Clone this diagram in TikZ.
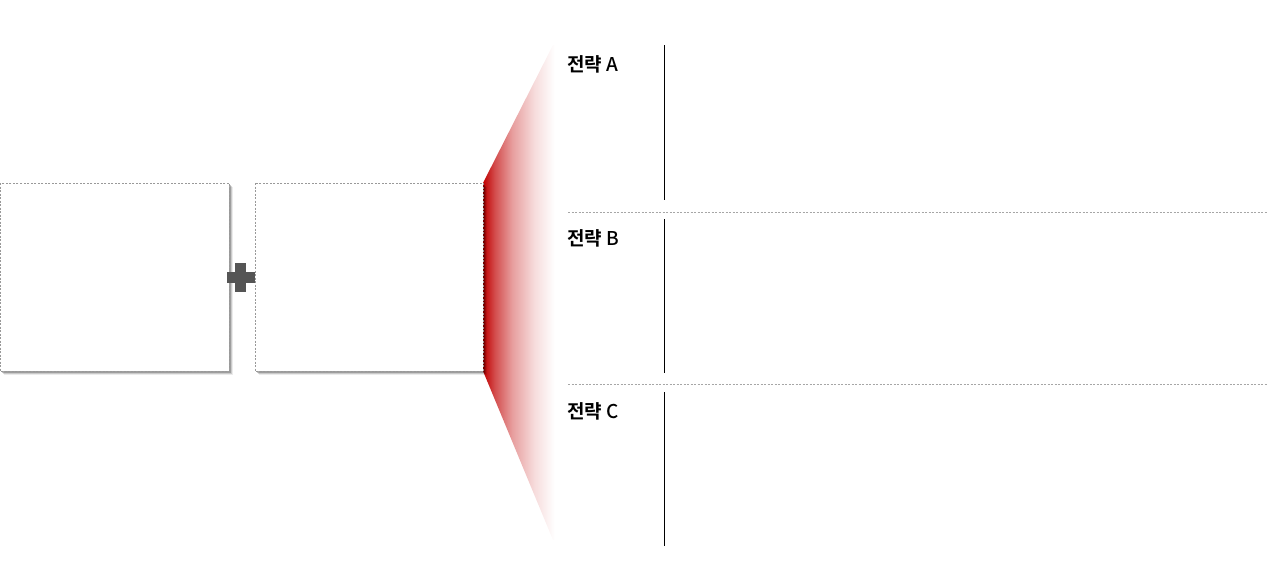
\documentclass[tikz,border=0pt]{standalone}
\usepackage{fontspec}
\newfontfamily\kr{Noto Sans CJK KR Bold}
\newfontfamily\krl{Noto Sans CJK KR Medium}
\usetikzlibrary{shadows}
\definecolor{fanred}{HTML}{C00000}
\definecolor{plusgray}{HTML}{555555}
\pgfdeclarehorizontalshading{fanshade}{100bp}{color(0bp)=(fanred); color(25bp)=(fanred); color(33bp)=(fanred!70!white); color(45bp)=(fanred!38!white); color(60bp)=(fanred!14!white); color(74bp)=(white); color(100bp)=(white)}
\begin{document}
\begin{tikzpicture}[x=1pt,y=-1pt,
  card/.style={draw=gray!80,dashed,dash pattern=on 2pt off 1.5pt,line width=0.6pt,fill=white,
    drop shadow={shadow xshift=4pt,shadow yshift=-4pt,fill=black,opacity=0.08},
    drop shadow={shadow xshift=2.8pt,shadow yshift=-2.8pt,fill=black,opacity=0.14},
    drop shadow={shadow xshift=1.6pt,shadow yshift=-1.6pt,fill=black,opacity=0.22}},
  label/.style={font=\kr\fontsize{19}{22}\selectfont,anchor=west,inner sep=0pt},
  sep/.style={draw=gray!70,dashed,dash pattern=on 2pt off 1.5pt,line width=0.6pt},
  vline/.style={draw=black,line width=0.8pt}]
\useasboundingbox (0,0) rectangle (1280,571);
% fan
\shade[shading=fanshade] (483,183) -- (553,45) -- (556,45) -- (556,540) -- (553,540) -- (483,371) -- cycle;
% boxes
\path[card] (0,183) rectangle (229,371);
\path[card] (255,183) rectangle (483,371);
% plus
\fill[plusgray] (227,272) rectangle (255,283);
\fill[plusgray] (235,263) rectangle (246,292);
% labels
\node[label] (la) at (567,64) {전략 {\krl A}};
\node[label] (lb) at (567,238) {전략 {\krl B}};
\node[label] (lc) at (567,411) {전략 {\krl C}};
% vertical lines
\draw[vline] (664,45) -- (664,200);
\draw[vline] (664,219) -- (664,373);
\draw[vline] (664,392) -- (664,546);
% separators
\draw[sep] (568,212) -- (1267,212);
\draw[sep] (568,384) -- (1267,384);
\end{tikzpicture}
\end{document}
